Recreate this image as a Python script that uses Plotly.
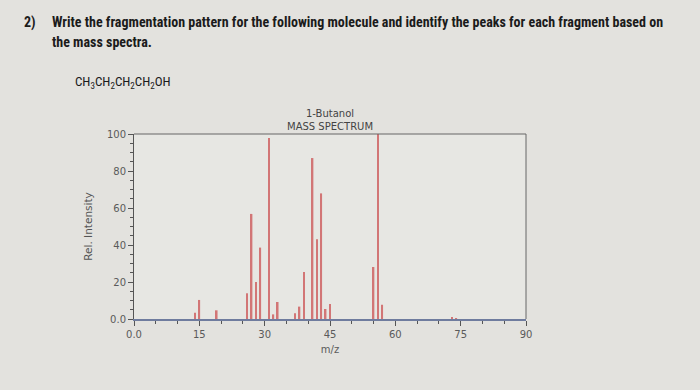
import plotly.graph_objects as go

# Data (1-Butanol)
mz = [14, 15, 19, 26, 27, 28, 29, 31, 32, 33, 37, 38, 39, 41, 42, 43, 44, 45, 55, 56, 57, 73, 74]
intensity = [3.4, 10.3, 4.7, 13.9, 56.8, 20.0, 38.6, 97.8, 2.5, 9.2, 3.1, 6.7, 25.4,
             87.0, 43.1, 67.9, 5.4, 8.1, 28.1, 100.0, 7.7, 1.0, 0.5]

x_tickvals = [0, 15, 30, 45, 60, 75, 90]
x_ticktext = ["0.0", "15", "30", "45", "60", "75", "90"]
y_tickvals = [0, 20, 40, 60, 80, 100]
y_ticktext = ["0.0", "20", "40", "60", "80", "100"]

question_num = "2)"
question_line1 = "Write the fragmentation pattern for the following molecule and identify the peaks for each fragment based on"
question_line2 = "the mass spectra."
formula = "CH<sub>3</sub>CH<sub>2</sub>CH<sub>2</sub>CH<sub>2</sub>OH"
chart_title = ["1-Butanol", "MASS SPECTRUM"]

W, H = 700, 390
L, R, T, B = 134, 174, 134, 71
PW, PH = W - L - R, H - T - B


def px(x):
    return (x - L) / PW


def py(y):
    return (H - B - y) / PH


axis_font = dict(family="DejaVu Sans, Verdana, sans-serif", size=10, color="#5a5a5a")

fig = go.Figure()
fig.add_trace(go.Bar(
    x=mz, y=intensity, width=0.36,
    marker=dict(color="#d27676", line=dict(width=0)),
    hoverinfo="x+y",
))

fig.update_layout(
    width=W, height=H,
    margin=dict(l=L, r=R, t=T, b=B),
    paper_bgcolor="#e3e2de",
    plot_bgcolor="#e7e7e3",
    showlegend=False,
    xaxis=dict(
        range=[0, 90], tickvals=x_tickvals, ticktext=x_ticktext,
        showgrid=False, zeroline=False,
        showline=True, linecolor="#6f7c9e", linewidth=2,
        ticks="outside", ticklen=5, tickcolor="#555555", tickwidth=1,
        minor=dict(dtick=5, tick0=0, ticks="outside", ticklen=3, tickcolor="#555555", showgrid=False),
        tickfont=axis_font,
        title=dict(text="m/z", font=axis_font, standoff=7),
    ),
    yaxis=dict(
        range=[0, 100], tickvals=y_tickvals, ticktext=y_ticktext,
        showgrid=False, zeroline=False,
        showline=True, linecolor="#555555", linewidth=1,
        ticks="outside", ticklen=5, tickcolor="#555555", tickwidth=1,
        minor=dict(dtick=5, tick0=0, ticks="outside", ticklen=3, tickcolor="#555555", showgrid=False),
        tickfont=axis_font,
        title=dict(text="Rel. Intensity", font=dict(family="DejaVu Sans, sans-serif", size=10.5, color="#555555"), standoff=12),
    ),
    font=dict(family="DejaVu Sans, sans-serif"),
)

fig.add_shape(type="line", xref="paper", yref="paper", x0=0, x1=1, y0=1, y1=1,
              line=dict(color="#666666", width=1))
fig.add_shape(type="line", xref="paper", yref="paper", x0=1, x1=1, y0=0, y1=1,
              line=dict(color="#666666", width=1))

q_font = dict(family="Liberation Sans Narrow, Roboto Condensed, Roboto, sans-serif", size=14, color="#1b1b1b")
for text, x, y in [(question_num, 22, 22), (question_line1, 50, 22), (question_line2, 50, 42)]:
    fig.add_annotation(text="<b>" + text + "</b>", xref="paper", yref="paper",
                       x=px(x), y=py(y), xanchor="left", yanchor="middle",
                       showarrow=False, font=q_font)

fig.add_annotation(text=formula, xref="paper", yref="paper", x=px(73), y=py(83),
                   xanchor="left", yanchor="middle", showarrow=False,
                   font=dict(family="Liberation Sans Narrow, Roboto Condensed, Roboto, sans-serif", size=13, color="#1b1b1b"))

for i, t in enumerate(chart_title):
    fig.add_annotation(text=t, xref="x", yref="paper", x=45, y=py(113 + 13 * i),
                       xanchor="center", yanchor="middle", showarrow=False,
                       font=dict(family="DejaVu Sans, sans-serif", size=10, color="#444444"))

fig.write_html("out.html", config={"displayModeBar": False},
               post_script="document.body.style.margin='0';")
